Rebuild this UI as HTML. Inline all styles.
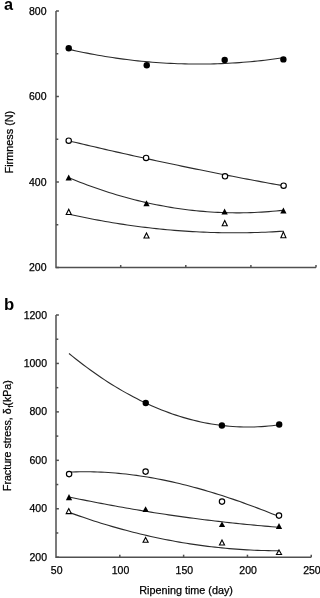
<!DOCTYPE html>
<html><head><meta charset="utf-8"><style>
html,body{margin:0;padding:0;background:#fff;}
body{width:320px;height:598px;overflow:hidden;}
svg{display:block;}
</style></head><body>
<svg width="320" height="598" viewBox="0 0 320 598">
<rect width="320" height="598" fill="#fff"/>
<g fill="none" stroke="#505050" stroke-width="1.5">
<path d="M56,11.0 V267.5 H316.00000000000006"/>
<path d="M56,267.50 h2.9"/>
<path d="M56,224.75 h2.3"/>
<path d="M56,182.00 h2.9"/>
<path d="M56,139.25 h2.3"/>
<path d="M56,96.50 h2.9"/>
<path d="M56,53.75 h2.3"/>
<path d="M56,11.00 h2.9"/>
<path d="M120.70,267.5 v-2.5"/>
<path d="M185.80,267.5 v-2.5"/>
<path d="M250.90,267.5 v-2.5"/>
<path d="M316.00,267.5 v-2.5"/>
<path d="M56,315.0 V557.2 H311.25"/>
<path d="M56,557.20 h2.9"/>
<path d="M56,532.98 h2.3"/>
<path d="M56,508.76 h2.9"/>
<path d="M56,484.54 h2.3"/>
<path d="M56,460.32 h2.9"/>
<path d="M56,436.10 h2.3"/>
<path d="M56,411.88 h2.9"/>
<path d="M56,387.66 h2.3"/>
<path d="M56,363.44 h2.9"/>
<path d="M56,339.22 h2.3"/>
<path d="M56,315.00 h2.9"/>
<path d="M119.81,557.2 v-2.5"/>
<path d="M183.62,557.2 v-2.5"/>
<path d="M247.44,557.2 v-2.5"/>
<path d="M311.25,557.2 v-2.5"/>
</g>
<g fill="none" stroke="#2b2b2b" stroke-width="1.1">
<path d="M68.90,49.32 L72.53,50.13 L76.16,50.92 L79.79,51.69 L83.42,52.44 L87.04,53.16 L90.67,53.86 L94.30,54.53 L97.93,55.19 L101.56,55.82 L105.19,56.42 L108.82,57.01 L112.45,57.57 L116.07,58.10 L119.70,58.62 L123.33,59.11 L126.96,59.57 L130.59,60.02 L134.22,60.44 L137.85,60.84 L141.48,61.21 L145.11,61.57 L148.73,61.89 L152.36,62.20 L155.99,62.48 L159.62,62.74 L163.25,62.98 L166.88,63.19 L170.51,63.38 L174.14,63.55 L177.76,63.69 L181.39,63.81 L185.02,63.91 L188.65,63.98 L192.28,64.03 L195.91,64.06 L199.54,64.06 L203.17,64.05 L206.79,64.00 L210.42,63.94 L214.05,63.85 L217.68,63.74 L221.31,63.61 L224.94,63.45 L228.57,63.27 L232.20,63.07 L235.83,62.84 L239.45,62.59 L243.08,62.32 L246.71,62.02 L250.34,61.70 L253.97,61.36 L257.60,60.99 L261.23,60.60 L264.86,60.19 L268.48,59.76 L272.11,59.30 L275.74,58.82 L279.37,58.31 L283.00,57.78"/>
<path d="M68.70,140.78 L72.34,141.66 L75.98,142.53 L79.63,143.39 L83.27,144.25 L86.91,145.11 L90.55,145.96 L94.20,146.81 L97.84,147.66 L101.48,148.50 L105.12,149.34 L108.77,150.18 L112.41,151.01 L116.05,151.84 L119.69,152.66 L123.34,153.48 L126.98,154.30 L130.62,155.11 L134.26,155.92 L137.91,156.72 L141.55,157.52 L145.19,158.32 L148.83,159.11 L152.47,159.90 L156.12,160.69 L159.76,161.47 L163.40,162.25 L167.04,163.03 L170.69,163.80 L174.33,164.56 L177.97,165.33 L181.61,166.09 L185.26,166.84 L188.90,167.59 L192.54,168.34 L196.18,169.09 L199.83,169.83 L203.47,170.56 L207.11,171.30 L210.75,172.03 L214.39,172.75 L218.04,173.47 L221.68,174.19 L225.32,174.91 L228.96,175.62 L232.61,176.32 L236.25,177.03 L239.89,177.72 L243.53,178.42 L247.18,179.11 L250.82,179.80 L254.46,180.48 L258.10,181.16 L261.75,181.84 L265.39,182.51 L269.03,183.18 L272.67,183.85 L276.32,184.51 L279.96,185.16 L283.60,185.82"/>
<path d="M69.00,177.79 L72.63,179.29 L76.27,180.75 L79.90,182.18 L83.54,183.58 L87.17,184.95 L90.80,186.28 L94.44,187.58 L98.07,188.85 L101.71,190.08 L105.34,191.28 L108.97,192.45 L112.61,193.59 L116.24,194.70 L119.87,195.77 L123.51,196.81 L127.14,197.81 L130.78,198.79 L134.41,199.73 L138.04,200.64 L141.68,201.51 L145.31,202.36 L148.95,203.17 L152.58,203.95 L156.21,204.69 L159.85,205.40 L163.48,206.08 L167.12,206.73 L170.75,207.35 L174.38,207.93 L178.02,208.48 L181.65,209.00 L185.28,209.48 L188.92,209.93 L192.55,210.35 L196.19,210.74 L199.82,211.09 L203.45,211.41 L207.09,211.70 L210.72,211.96 L214.36,212.18 L217.99,212.37 L221.62,212.53 L225.26,212.66 L228.89,212.75 L232.53,212.81 L236.16,212.84 L239.79,212.83 L243.43,212.79 L247.06,212.72 L250.69,212.62 L254.33,212.48 L257.96,212.32 L261.60,212.12 L265.23,211.88 L268.86,211.62 L272.50,211.32 L276.13,210.99 L279.77,210.62 L283.40,210.22"/>
<path d="M69.00,214.12 L72.63,214.93 L76.27,215.73 L79.90,216.50 L83.54,217.26 L87.17,218.00 L90.80,218.72 L94.44,219.43 L98.07,220.11 L101.71,220.78 L105.34,221.43 L108.97,222.06 L112.61,222.67 L116.24,223.27 L119.87,223.85 L123.51,224.41 L127.14,224.95 L130.78,225.47 L134.41,225.98 L138.04,226.46 L141.68,226.93 L145.31,227.39 L148.95,227.82 L152.58,228.23 L156.21,228.63 L159.85,229.01 L163.48,229.37 L167.12,229.72 L170.75,230.04 L174.38,230.35 L178.02,230.64 L181.65,230.91 L185.28,231.16 L188.92,231.40 L192.55,231.62 L196.19,231.81 L199.82,232.00 L203.45,232.16 L207.09,232.30 L210.72,232.43 L214.36,232.54 L217.99,232.63 L221.62,232.70 L225.26,232.76 L228.89,232.80 L232.53,232.82 L236.16,232.82 L239.79,232.80 L243.43,232.76 L247.06,232.71 L250.69,232.64 L254.33,232.55 L257.96,232.44 L261.60,232.32 L265.23,232.18 L268.86,232.01 L272.50,231.84 L276.13,231.64 L279.77,231.42 L283.40,231.19"/>
<path d="M69.00,353.46 L72.56,356.36 L76.13,359.21 L79.69,361.99 L83.25,364.72 L86.81,367.39 L90.38,369.99 L93.94,372.55 L97.50,375.04 L101.06,377.47 L104.63,379.85 L108.19,382.17 L111.75,384.42 L115.32,386.63 L118.88,388.77 L122.44,390.85 L126.00,392.88 L129.57,394.85 L133.13,396.75 L136.69,398.61 L140.25,400.40 L143.82,402.13 L147.38,403.81 L150.94,405.42 L154.51,406.98 L158.07,408.48 L161.63,409.93 L165.19,411.31 L168.76,412.64 L172.32,413.90 L175.88,415.11 L179.44,416.26 L183.01,417.35 L186.57,418.39 L190.13,419.36 L193.69,420.28 L197.26,421.14 L200.82,421.94 L204.38,422.68 L207.95,423.36 L211.51,423.99 L215.07,424.56 L218.63,425.06 L222.20,425.52 L225.76,425.91 L229.32,426.24 L232.88,426.52 L236.45,426.73 L240.01,426.89 L243.57,426.99 L247.14,427.03 L250.70,427.02 L254.26,426.94 L257.82,426.81 L261.39,426.62 L264.95,426.37 L268.51,426.06 L272.07,425.69 L275.64,425.26 L279.20,424.78"/>
<path d="M69.00,472.18 L72.56,472.02 L76.12,471.90 L79.68,471.82 L83.24,471.77 L86.80,471.77 L90.36,471.80 L93.92,471.86 L97.47,471.97 L101.03,472.11 L104.59,472.29 L108.15,472.50 L111.71,472.74 L115.27,473.02 L118.83,473.34 L122.39,473.69 L125.95,474.07 L129.51,474.49 L133.07,474.94 L136.63,475.42 L140.19,475.93 L143.75,476.47 L147.31,477.05 L150.86,477.65 L154.42,478.29 L157.98,478.95 L161.54,479.65 L165.10,480.37 L168.66,481.13 L172.22,481.91 L175.78,482.72 L179.34,483.55 L182.90,484.42 L186.46,485.31 L190.02,486.22 L193.58,487.17 L197.14,488.13 L200.69,489.13 L204.25,490.15 L207.81,491.19 L211.37,492.26 L214.93,493.35 L218.49,494.46 L222.05,495.60 L225.61,496.75 L229.17,497.93 L232.73,499.14 L236.29,500.36 L239.85,501.60 L243.41,502.87 L246.97,504.15 L250.53,505.46 L254.08,506.78 L257.64,508.12 L261.20,509.48 L264.76,510.86 L268.32,512.26 L271.88,513.67 L275.44,515.11 L279.00,516.55"/>
<path d="M69.00,496.95 L72.56,497.69 L76.12,498.43 L79.68,499.17 L83.24,499.89 L86.80,500.61 L90.36,501.31 L93.92,502.01 L97.47,502.71 L101.03,503.39 L104.59,504.06 L108.15,504.73 L111.71,505.39 L115.27,506.04 L118.83,506.69 L122.39,507.32 L125.95,507.95 L129.51,508.57 L133.07,509.18 L136.63,509.78 L140.19,510.37 L143.75,510.96 L147.31,511.54 L150.86,512.11 L154.42,512.67 L157.98,513.23 L161.54,513.77 L165.10,514.31 L168.66,514.84 L172.22,515.36 L175.78,515.87 L179.34,516.38 L182.90,516.88 L186.46,517.37 L190.02,517.85 L193.58,518.32 L197.14,518.79 L200.69,519.24 L204.25,519.69 L207.81,520.13 L211.37,520.57 L214.93,520.99 L218.49,521.41 L222.05,521.81 L225.61,522.22 L229.17,522.61 L232.73,522.99 L236.29,523.37 L239.85,523.74 L243.41,524.10 L246.97,524.45 L250.53,524.79 L254.08,525.13 L257.64,525.45 L261.20,525.77 L264.76,526.08 L268.32,526.39 L271.88,526.68 L275.44,526.97 L279.00,527.25"/>
<path d="M69.00,512.31 L72.56,513.61 L76.12,514.88 L79.68,516.12 L83.24,517.35 L86.80,518.55 L90.36,519.74 L93.92,520.90 L97.47,522.03 L101.03,523.15 L104.59,524.24 L108.15,525.32 L111.71,526.36 L115.27,527.39 L118.83,528.40 L122.39,529.38 L125.95,530.34 L129.51,531.28 L133.07,532.20 L136.63,533.09 L140.19,533.96 L143.75,534.81 L147.31,535.64 L150.86,536.45 L154.42,537.23 L157.98,537.99 L161.54,538.73 L165.10,539.45 L168.66,540.14 L172.22,540.82 L175.78,541.47 L179.34,542.10 L182.90,542.70 L186.46,543.29 L190.02,543.85 L193.58,544.39 L197.14,544.91 L200.69,545.41 L204.25,545.88 L207.81,546.33 L211.37,546.76 L214.93,547.17 L218.49,547.55 L222.05,547.92 L225.61,548.26 L229.17,548.58 L232.73,548.87 L236.29,549.15 L239.85,549.40 L243.41,549.63 L246.97,549.84 L250.53,550.03 L254.08,550.19 L257.64,550.33 L261.20,550.45 L264.76,550.55 L268.32,550.63 L271.88,550.68 L275.44,550.71 L279.00,550.72"/>
</g>
<g>
<circle cx="68.75" cy="48.25" r="3.2" fill="#000" stroke="none"/>
<circle cx="146.75" cy="65.25" r="3.2" fill="#000" stroke="none"/>
<circle cx="224.7" cy="60" r="3.2" fill="#000" stroke="none"/>
<circle cx="283.4" cy="59.4" r="3.2" fill="#000" stroke="none"/>
<circle cx="68.7" cy="140.7" r="2.7" fill="#fff" stroke="#000" stroke-width="1.15"/>
<circle cx="146.1" cy="157.9" r="2.7" fill="#fff" stroke="#000" stroke-width="1.15"/>
<circle cx="225" cy="176.25" r="2.7" fill="#fff" stroke="#000" stroke-width="1.15"/>
<circle cx="283.6" cy="185.7" r="2.7" fill="#fff" stroke="#000" stroke-width="1.15"/>
<path d="M68.7,174.6 L71.85000000000001,180.5 L65.55,180.5 Z" fill="#000" stroke="none"/>
<path d="M146.5,200.25 L149.65,206.25 L143.35,206.25 Z" fill="#000" stroke="none"/>
<path d="M224.6,208.5 L227.75,214.4 L221.45,214.4 Z" fill="#000" stroke="none"/>
<path d="M283.4,207.4 L286.54999999999995,213.6 L280.25,213.6 Z" fill="#000" stroke="none"/>
<path d="M68.75,209.25 L71.30000000000001,214.5 L66.19999999999999,214.5 Z" fill="#fff" stroke="#000" stroke-width="1.1"/>
<path d="M146.5,233.0 L149.05,238.0 L143.95,238.0 Z" fill="#fff" stroke="#000" stroke-width="1.1"/>
<path d="M224.75,220.5 L227.3,225.75 L222.2,225.75 Z" fill="#fff" stroke="#000" stroke-width="1.1"/>
<path d="M283.4,231.9 L285.94999999999993,237.8 L280.85,237.8 Z" fill="#fff" stroke="#000" stroke-width="1.1"/>
<circle cx="145.75" cy="403" r="3.2" fill="#000" stroke="none"/>
<circle cx="221.9" cy="425.5" r="3.2" fill="#000" stroke="none"/>
<circle cx="279.2" cy="424.5" r="3.2" fill="#000" stroke="none"/>
<circle cx="69.1" cy="474.1" r="2.7" fill="#fff" stroke="#000" stroke-width="1.15"/>
<circle cx="145.6" cy="471.6" r="2.7" fill="#fff" stroke="#000" stroke-width="1.15"/>
<circle cx="222" cy="501.6" r="2.7" fill="#fff" stroke="#000" stroke-width="1.15"/>
<circle cx="279" cy="515.6" r="2.7" fill="#fff" stroke="#000" stroke-width="1.15"/>
<path d="M69,494.1 L72.15,500.25 L65.85,500.25 Z" fill="#000" stroke="none"/>
<path d="M145.6,506.2 L148.75,511.9 L142.45,511.9 Z" fill="#000" stroke="none"/>
<path d="M222,521.4 L225.15,527 L218.85,527 Z" fill="#000" stroke="none"/>
<path d="M279,523.1 L282.15,529.1 L275.85,529.1 Z" fill="#000" stroke="none"/>
<path d="M68.75,508.6 L71.30000000000001,513.6 L66.19999999999999,513.6 Z" fill="#fff" stroke="#000" stroke-width="1.1"/>
<path d="M145.6,537.5 L148.15,542.2 L143.04999999999998,542.2 Z" fill="#fff" stroke="#000" stroke-width="1.1"/>
<path d="M222,540.0 L224.55,545.0 L219.45,545.0 Z" fill="#fff" stroke="#000" stroke-width="1.1"/>
<path d="M279,549.9 L281.54999999999995,554.5 L276.45000000000005,554.5 Z" fill="#fff" stroke="#000" stroke-width="1.1"/>
</g>
<g font-family="'Liberation Sans', Arial, sans-serif" font-size="10.5" fill="#000" stroke="#000" stroke-width="0.25">
<text x="46.5" y="14.75" text-anchor="end">800</text>
<text x="46.5" y="100.25" text-anchor="end">600</text>
<text x="46.5" y="185.75" text-anchor="end">400</text>
<text x="46.5" y="271.25" text-anchor="end">200</text>
<text x="47" y="318.60" text-anchor="end">1200</text>
<text x="47" y="367.04" text-anchor="end">1000</text>
<text x="47" y="415.48" text-anchor="end">800</text>
<text x="47" y="463.92" text-anchor="end">600</text>
<text x="47" y="512.36" text-anchor="end">400</text>
<text x="47" y="560.80" text-anchor="end">200</text>
<text x="56.70" y="574" text-anchor="middle">50</text>
<text x="120.51" y="574" text-anchor="middle">100</text>
<text x="184.32" y="574" text-anchor="middle">150</text>
<text x="248.14" y="574" text-anchor="middle">200</text>
<text x="311.95" y="574" text-anchor="middle">250</text>
<text x="139.3" y="594.4" font-size="10.8">Ripening time (day)</text>
<text transform="translate(12.8,142.1) rotate(-90)" text-anchor="middle" font-size="10.85">Firmness (N)</text>
<text transform="translate(11.3,491.1) rotate(-90)" font-size="10.65">Fracture stress, δ<tspan font-size="7" dy="2" dx="0.9">f</tspan><tspan dy="-2" dx="-0.2">(kPa)</tspan></text>
<text x="4.1" y="9.8" font-weight="bold" font-size="16.3" stroke-width="0">a</text>
<text x="4.1" y="309.5" font-weight="bold" font-size="16.7" stroke-width="0">b</text>
</g>
</svg>
</body></html>
